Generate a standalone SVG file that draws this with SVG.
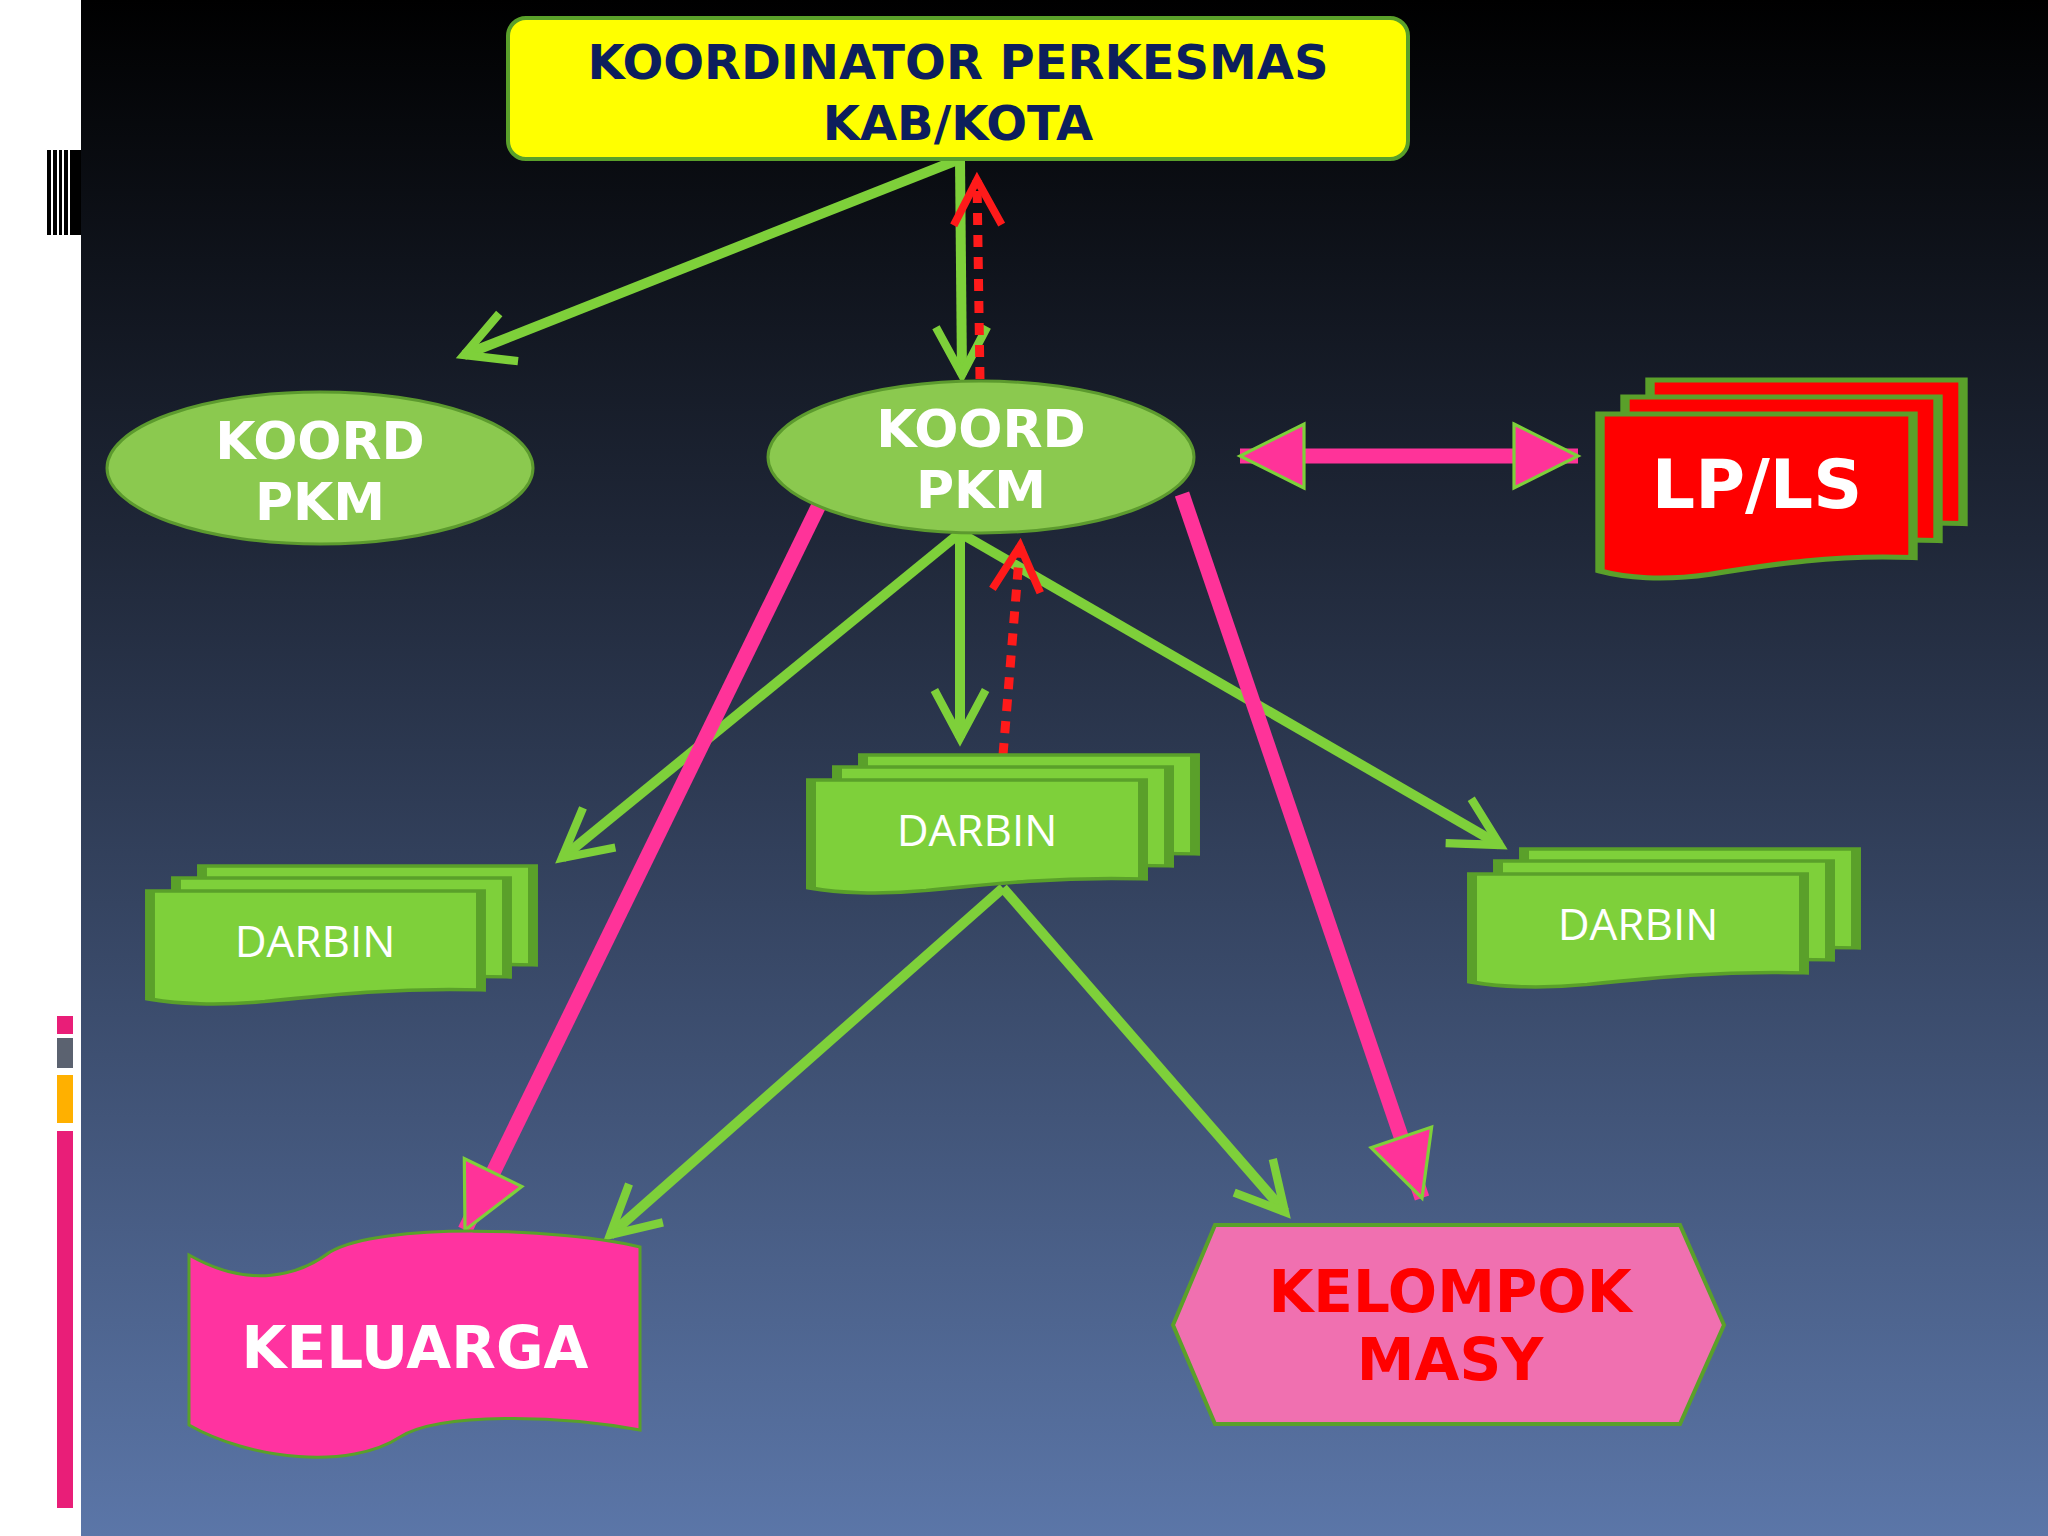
<svg xmlns="http://www.w3.org/2000/svg" width="2048" height="1536" viewBox="0 0 2048 1536">
<defs>
<linearGradient id="bg" x1="0" y1="0" x2="0" y2="1">
<stop offset="0" stop-color="#000000"/><stop offset="0.35" stop-color="#1f2738"/><stop offset="1" stop-color="#5b76a8"/>
</linearGradient>
<marker id="gv" viewBox="0 0 20 20" refX="17" refY="10" markerWidth="64" markerHeight="64" markerUnits="userSpaceOnUse" orient="auto">
<path d="M2,2 L17,10 L2,18" fill="none" stroke="#7ed03a" stroke-width="2.6"/>
</marker>
<marker id="rv" viewBox="0 0 20 20" refX="17" refY="10" markerWidth="60" markerHeight="60" markerUnits="userSpaceOnUse" orient="auto">
<path d="M2,2 L17,10 L2,18" fill="none" stroke="#ff1a1a" stroke-width="2.6"/>
</marker>
<marker id="pk" viewBox="0 0 20 20" refX="18" refY="10" markerWidth="80" markerHeight="80" markerUnits="userSpaceOnUse" orient="auto-start-reverse">
<path d="M2,2 L18,10 L2,18 Z" fill="#ff3399" stroke="#7ed03a" stroke-width="0.8"/>
</marker>
<path id="doc" d="M0,0 H100 V86 C75,84 55,90 35,96 C20,100 8,98 0,94 Z"/>
<style>
.g{stroke:#7ed03a;stroke-width:10;fill:none;marker-end:url(#gv)}
.p{stroke:#ff3399;stroke-width:15;fill:none;marker-end:url(#pk)}
.r{stroke:#ff1a1a;stroke-width:9;stroke-dasharray:12 10;fill:none;marker-end:url(#rv)}
.gd{fill:#7ed03a;stroke:#5aa02a;stroke-width:3;vector-effect:non-scaling-stroke}
.rd{fill:#ff0000;stroke:#5aa02a;stroke-width:3;vector-effect:non-scaling-stroke}
.ell{fill:#8bc94f;stroke:#5c9a2e;stroke-width:3}
.wb{font-family:"DejaVu Sans",sans-serif;font-weight:bold;fill:#ffffff;text-anchor:middle}
.dt{font-family:"Open Sans","DejaVu Sans",sans-serif;fill:#ffffff;font-size:44px;text-anchor:middle}
</style>
</defs>
<rect width="2048" height="1536" fill="url(#bg)"/>
<rect width="81" height="1536" fill="#ffffff"/>
<g id="strip">
<rect x="47" y="150" width="34" height="85" fill="#000"/>
<g stroke="#fff" stroke-width="2"><line x1="52" y1="150" x2="52" y2="235"/><line x1="58" y1="150" x2="58" y2="235"/><line x1="63" y1="150" x2="63" y2="235"/><line x1="69" y1="150" x2="69" y2="235"/></g>
<rect x="57" y="1016" width="16" height="18" fill="#e91e78"/>
<rect x="57" y="1038" width="16" height="30" fill="#5b6270"/>
<rect x="57" y="1075" width="16" height="48" fill="#ffb000"/>
<rect x="57" y="1131" width="16" height="377" fill="#e91e78"/>
</g>
<g id="connectors">
<line class="g" x1="960" y1="159" x2="464" y2="355"/>
<line class="g" x1="960" y1="159" x2="962" y2="375"/>
<line class="g" x1="960" y1="533" x2="960" y2="738"/>
<line class="g" x1="960" y1="533" x2="562" y2="858"/>
<line class="g" x1="960" y1="533" x2="1500" y2="845"/>
<line class="g" x1="1003" y1="888" x2="610" y2="1235"/>
<line class="g" x1="1003" y1="888" x2="1285" y2="1212"/>
<line class="p" x1="820" y1="503" x2="465" y2="1230"/>
<line class="p" x1="1182" y1="494" x2="1422" y2="1198"/>
<line class="p" x1="1240" y1="456" x2="1578" y2="456" style="marker-start:url(#pk)"/>
<line class="r" x1="980" y1="379" x2="977" y2="180"/>
<line class="r" x1="1003" y1="755" x2="1020" y2="546"/>
</g>
<g id="top">
<rect x="508" y="18" width="900" height="141" rx="18" fill="#ffff00" stroke="#5aa02a" stroke-width="4"/>
<text x="958" y="79" font-family="DejaVu Sans,sans-serif" font-weight="bold" font-size="48" fill="#0d1f5c" text-anchor="middle">KOORDINATOR PERKESMAS</text>
<text x="958" y="140" font-family="DejaVu Sans,sans-serif" font-weight="bold" font-size="48" fill="#0d1f5c" text-anchor="middle">KAB/KOTA</text>
</g>
<g id="koord1">
<ellipse cx="320" cy="468" rx="213" ry="76" class="ell"/>
<text class="wb" x="320" y="459" font-size="52">KOORD</text>
<text class="wb" x="320" y="520" font-size="52">PKM</text>
</g>
<g id="koord2">
<ellipse cx="981" cy="457" rx="213" ry="76" class="ell"/>
<text class="wb" x="981" y="447" font-size="52">KOORD</text>
<text class="wb" x="981" y="508" font-size="52">PKM</text>
</g>
<g id="lpls">
<use href="#doc" class="rd" transform="translate(1650,380) scale(3.13,1.67)"/>
<use href="#doc" class="rd" transform="translate(1625,397) scale(3.13,1.67)"/>
<use href="#doc" class="rd" transform="translate(1600,414) scale(3.13,1.67)"/>
<text class="wb" x="1757" y="508" font-size="68">LP/LS</text>
</g>
<g id="darbin1">
<use href="#doc" class="gd" transform="translate(202,866) scale(3.31,1.15)"/>
<use href="#doc" class="gd" transform="translate(176,878) scale(3.31,1.15)"/>
<use href="#doc" class="gd" transform="translate(150,891) scale(3.31,1.15)"/>
<text class="dt" x="315" y="957">DARBIN</text>
</g>
<g id="darbin2">
<use href="#doc" class="gd" transform="translate(863,755) scale(3.32,1.15)"/>
<use href="#doc" class="gd" transform="translate(837,767) scale(3.32,1.15)"/>
<use href="#doc" class="gd" transform="translate(811,780) scale(3.32,1.15)"/>
<text class="dt" x="977" y="846">DARBIN</text>
</g>
<g id="darbin3">
<use href="#doc" class="gd" transform="translate(1524,849) scale(3.32,1.15)"/>
<use href="#doc" class="gd" transform="translate(1498,861) scale(3.32,1.15)"/>
<use href="#doc" class="gd" transform="translate(1472,874) scale(3.32,1.15)"/>
<text class="dt" x="1638" y="940">DARBIN</text>
</g>
<g id="keluarga">
<path d="M189,1255 C250,1290 300,1275 330,1252 C380,1222 560,1228 640,1247 V1430 C560,1415 440,1412 400,1437 C350,1470 250,1460 189,1425 Z" fill="#ff33a0" stroke="#5aa02a" stroke-width="3"/>
<text class="wb" x="415" y="1368" font-size="58">KELUARGA</text>
</g>
<g id="kelompok">
<polygon points="1173,1325 1215,1225 1680,1225 1724,1325 1680,1424 1215,1424" fill="#f070b0" stroke="#5aa02a" stroke-width="4"/>
<text x="1450" y="1312" font-family="DejaVu Sans,sans-serif" font-weight="bold" font-size="58" fill="#ff0000" text-anchor="middle">KELOMPOK</text>
<text x="1450" y="1380" font-family="DejaVu Sans,sans-serif" font-weight="bold" font-size="58" fill="#ff0000" text-anchor="middle">MASY</text>
</g>
</svg>
